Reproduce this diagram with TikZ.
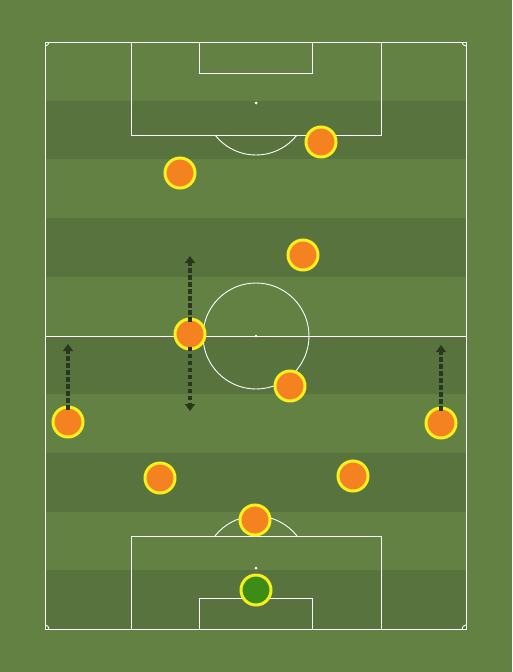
\documentclass[tikz,border=0pt]{standalone}
\usetikzlibrary{arrows.meta}
\definecolor{grassL}{RGB}{98,129,67}
\definecolor{grassD}{RGB}{88,115,62}
\definecolor{plOrange}{RGB}{245,130,32}
\definecolor{plYellow}{RGB}{245,240,30}
\definecolor{gkGreen}{RGB}{60,140,22}
\definecolor{arrowDark}{RGB}{40,56,30}
\definecolor{shadowC}{RGB}{60,80,40}
\tikzset{
  pline/.style={draw=white, line width=0.9pt},
  player/.style={circle, fill=plOrange, draw=plYellow, line width=3pt, minimum size=30pt, inner sep=0pt},
  keeper/.style={player, fill=gkGreen},
  runarrow/.style={draw=arrowDark, line width=3.2pt, dash pattern=on 4.5pt off 2.5pt, -{Triangle[width=10pt,length=7pt]}}
}
\begin{document}
\begin{tikzpicture}[x=1pt,y=-1pt]
\useasboundingbox (0,0) rectangle (512,672);
\fill[grassL] (0,0) rectangle (512,672);
% stripes
\foreach \i in {1,3,5,7,9} {
  \fill[grassD] (45,{42+\i*58.7}) rectangle (466,{42+(\i+1)*58.7});
}
% outline
\draw[pline] (45,42) rectangle (466,629);
\draw[pline] (45,336) -- (466,336);
\draw[pline] (256,336) circle (53);
\fill[white] (256,336) circle (1.5);
% top area
\draw[pline] (131,42) rectangle (381,135);
\draw[pline] (199,42) rectangle (312,73);
\fill[white] (256,103) circle (1.5);
\begin{scope}
\clip (100,135) rectangle (420,200);
\draw[pline] (256,103) circle (52);
\end{scope}
% bottom area
\draw[pline] (131,536) rectangle (381,629);
\draw[pline] (199,598) rectangle (312,629);
\fill[white] (256,568) circle (1.5);
\begin{scope}
\clip (100,480) rectangle (420,536);
\draw[pline] (256,568) circle (52);
\end{scope}
% corners
\begin{scope}
\clip (45,42) rectangle (466,629);
\draw[pline] (45,42) circle (4);
\draw[pline] (466,42) circle (4);
\draw[pline] (45,629) circle (4);
\draw[pline] (466,629) circle (4);
\end{scope}
% players
\node[player] (p1) at (321,142) {};
\node[player] (p2) at (180,173) {};
\node[player] (p3) at (303,255) {};
\node[player] (p4) at (190,334) {};
\node[player] (p5) at (290,386) {};
\node[player] (p6) at (68,422) {};
\node[player] (p7) at (441,423) {};
\node[player] (p8) at (160,478) {};
\node[player] (p9) at (353,476) {};
\node[player] (p10) at (255,520) {};
\node[keeper] (gk) at (256,590) {};
% arrows
\coordinate (a1) at (190,256);
\coordinate (a2) at (190,411);
\coordinate (a3) at (68,344);
\coordinate (a4) at (441,345);
\draw[runarrow] ([yshift=-4pt]p4.north) -- (a1);
\draw[runarrow] ([yshift=4pt]p4.south) -- (a2);
\draw[runarrow] ([yshift=-4pt]p6.north) -- (a3);
\draw[runarrow] ([yshift=-4pt]p7.north) -- (a4);
\end{tikzpicture}
\end{document}
